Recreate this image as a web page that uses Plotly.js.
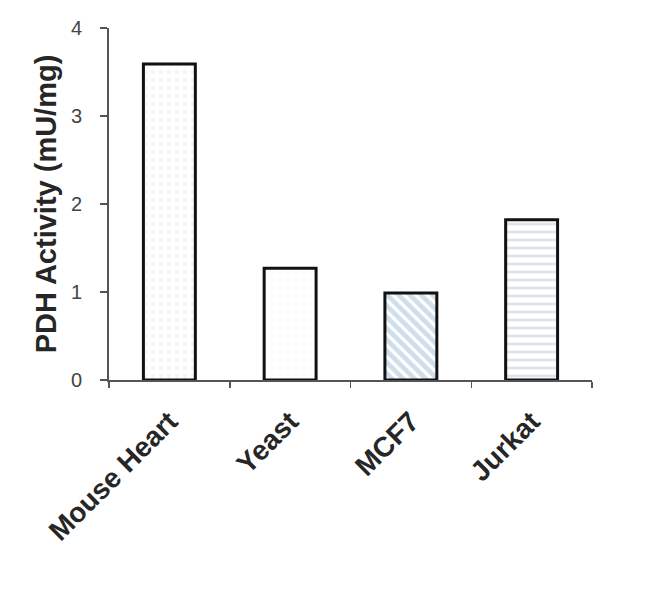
<!DOCTYPE html>
<html>
<head>
<meta charset="utf-8">
<script src="https://cdn.plot.ly/plotly-3.0.1.min.js"></script>
<style>
  html, body { margin: 0; padding: 0; background: #fff; }
  #chart { width: 650px; height: 591px; }
</style>
</head>
<body>
<div id="chart"></div>
<script>
var samples = ["Mouse Heart", "Yeast", "MCF7", "Jurkat"];
var activity = [3.59, 1.27, 0.99, 1.82];
var fillShapes = [".", ".", "\\", "-"];
var fillFg = ["#cdd8e2", "#dde4ea", "#4a5e72", "#b6c5d2"];
var fillBg = ["#f4f7fa", "#fbfcfd", "#cfdeea", "#dbe5ee"];
var fillSolidity = [0.3, 0.3, 0.6, 0.35];

var trace = {
    type: "bar",
    x: samples,
    y: activity,
    width: 0.43,
    marker: {
        color: fillBg,
        line: { color: "#111", width: 3 },
        pattern: {
            shape: fillShapes,
            fgcolor: fillFg,
            fgopacity: 1,
            bgcolor: fillBg,
            size: 8,
            solidity: fillSolidity
        }
    },
    hoverinfo: "x+y"
};

var layout = {
    width: 650,
    height: 591,
    margin: { l: 109, r: 58, t: 28, b: 211 },
    paper_bgcolor: "#fff",
    plot_bgcolor: "#fff",
    showlegend: false,
    font: { family: "Liberation Sans, Arial, sans-serif", color: "#222" },
    xaxis: {
        type: "category",
        showline: true,
        linecolor: "#555",
        linewidth: 2,
        ticks: "outside",
        tickson: "boundaries",
        ticklen: 6,
        tickwidth: 1.5,
        tickcolor: "#555",
        tickangle: -45,
        ticklabelstandoff: 12,
        tickfont: { size: 28, weight: "bold", color: "#262626" },
        showgrid: false,
        zeroline: false
    },
    yaxis: {
        range: [0, 4],
        dtick: 1,
        showline: true,
        linecolor: "#555",
        linewidth: 2,
        ticks: "outside",
        ticklen: 7,
        tickwidth: 1.5,
        tickcolor: "#555",
        ticklabelstandoff: 14,
        tickfont: { size: 20, color: "#444" },
        showgrid: false,
        zeroline: false,
        title: {
            text: "PDH Activity (mU/mg)",
            font: { size: 29, weight: "bold", color: "#262626" },
            standoff: 6
        }
    }
};

Plotly.newPlot("chart", [trace], layout, { displayModeBar: false, staticPlot: true });
</script>
</body>
</html>
